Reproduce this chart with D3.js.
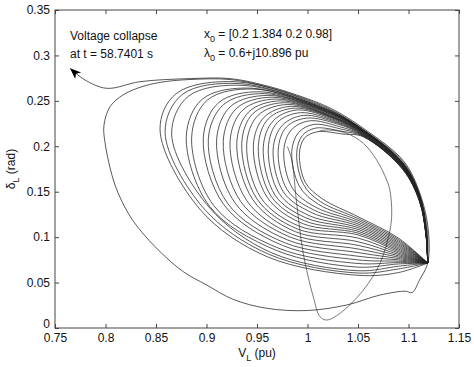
<!DOCTYPE html>
<html>
<head>
<meta charset="utf-8">
<script src="https://cdn.jsdelivr.net/npm/d3@7"></script>
<style>
  body { margin: 0; background: #fff; }
  text { font-family: "Liberation Sans", Arial, sans-serif; }
</style>
</head>
<body>
<svg id="chart" width="474" height="367"></svg>
<script>
// axis ticks
const xTicks = [0.75, 0.8, 0.85, 0.9, 0.95, 1, 1.05, 1.1, 1.15];
const xTickLabels = ["0.75", "0.8", "0.85", "0.9", "0.95", "1", "1.05", "1.1", "1.15"];
const yTicks = [0, 0.05, 0.1, 0.15, 0.2, 0.25, 0.3, 0.35];
const yTickLabels = ["0", "0.05", "0.1", "0.15", "0.2", "0.25", "0.3", "0.35"];

// spiral loops, innermost (0) to outermost (22); every loop passes the cusp
const cusp = [1.119, 0.0715];
const arcV = [1.1175, 1.111, 1.094, 1.055];   // V_L where the right arc is read
const arc0 = [0.100,0.100,0.101,0.101,0.102,0.102,0.102,0.103,0.103,0.104,0.104,0.104,0.105,0.105,0.105,0.106,0.106,0.106,0.107,0.107,0.107,0.108,0.108];
const arcA = [0.139,0.139,0.140,0.140,0.140,0.141,0.141,0.141,0.142,0.142,0.142,0.143,0.143,0.143,0.144,0.144,0.144,0.145,0.145,0.145,0.146,0.146,0.146];
const arcB = [0.175,0.175,0.176,0.176,0.177,0.177,0.177,0.178,0.178,0.178,0.179,0.179,0.179,0.180,0.180,0.180,0.181,0.181,0.181,0.182,0.182,0.182,0.182];
const arcC = [0.2106,0.211,0.2115,0.212,0.2125,0.213,0.2135,0.214,0.2145,0.215,0.2153,0.2156,0.216,0.2163,0.2166,0.217,0.2172,0.2174,0.2176,0.2178,0.218,0.218,0.218];
const shV = [1.035,1.034,1.033,1.032,1.031,1.030,1.029,1.028,1.027,1.026,1.025,1.024,1.023,1.023,1.022,1.022,1.021,1.021,1.020,1.020,1.020,1.020,1.020];
const shD = [0.2135,0.2165,0.219,0.2215,0.224,0.2255,0.227,0.2285,0.230,0.231,0.232,0.233,0.234,0.235,0.236,0.237,0.237,0.238,0.239,0.239,0.240,0.240,0.241];
const topV = [1.010,1.008,1.006,1.002,0.999,0.996,0.993,0.990,0.987,0.984,0.980,0.977,0.973,0.969,0.965,0.961,0.957,0.953,0.947,0.944,0.937,0.933,0.930];
const topD = [0.216,0.220,0.224,0.228,0.231,0.234,0.237,0.240,0.242,0.244,0.246,0.248,0.250,0.252,0.254,0.256,0.258,0.260,0.263,0.264,0.267,0.269,0.271];
const ulV = [0.997,0.995,0.991,0.984,0.979,0.975,0.970,0.966,0.961,0.957,0.951,0.946,0.942,0.936,0.930,0.924,0.917,0.912,0.901,0.896,0.882,0.876,0.870];
const ulD = [0.209,0.212,0.215,0.218,0.221,0.223,0.226,0.228,0.230,0.232,0.234,0.236,0.238,0.240,0.242,0.244,0.246,0.248,0.251,0.252,0.255,0.257,0.258];
const leftV = [0.992,0.9893,0.9844,0.9765,0.971,0.966,0.9612,0.9562,0.9513,0.9464,0.9398,0.9349,0.930,0.9233,0.9166,0.910,0.9018,0.8968,0.8853,0.880,0.8655,0.859,0.854];
const leftD = [0.192,0.193,0.194,0.195,0.196,0.197,0.198,0.199,0.200,0.201,0.202,0.203,0.204,0.205,0.206,0.207,0.208,0.209,0.210,0.211,0.213,0.215,0.218];
const kneeV = [0.998,0.996,0.992,0.985,0.980,0.976,0.972,0.968,0.964,0.960,0.954,0.950,0.946,0.940,0.934,0.928,0.921,0.917,0.907,0.903,0.9025,0.897,0.894];
const kneeD = [0.160,0.158,0.156,0.154,0.152,0.150,0.148,0.146,0.145,0.144,0.143,0.142,0.141,0.140,0.139,0.138,0.137,0.136,0.135,0.134,0.133,0.132,0.130];
const lowV = [1.015,1.013,1.011,1.008,1.006,1.004,1.001,0.999,0.997,0.995,0.992,0.990,0.988,0.985,0.983,0.980,0.977,0.975,0.971,0.969,0.964,0.962,0.960];
const lowD = [0.142,0.139,0.136,0.133,0.130,0.127,0.124,0.121,0.118,0.115,0.112,0.109,0.106,0.103,0.100,0.097,0.094,0.091,0.088,0.0855,0.083,0.081,0.0785];
const lowerV = [1.05, 1.09];                   // V_L where the lower branch is read
const lo1 = [0.1225,0.1205,0.1185,0.1165,0.1145,0.1125,0.1105,0.1085,0.1065,0.1045,0.1025,0.099,0.095,0.091,0.087,0.083,0.079,0.075,0.071,0.067,0.063,0.0605,0.058];
const lo2 = [0.099,0.0975,0.096,0.0945,0.093,0.0915,0.090,0.0885,0.087,0.0855,0.084,0.0825,0.081,0.0795,0.078,0.0765,0.075,0.0735,0.072,0.0705,0.068,0.065,0.061];

// initial transient from x0 (V_L = 0.98, delta_L = 0.2)
const transient = [[0.98,0.2],[0.9844,0.1849],[0.9893,0.1372],[0.9958,0.0822],[1.0057,0.0344],[1.0124,0.0124],[1.019,0.0088],
  [1.0322,0.0162],[1.0553,0.0418],[1.0718,0.0712],[1.0817,0.1079],[1.0834,0.1262],[1.0817,0.1508],[1.0784,0.1629],
  [1.0685,0.1849],[1.0553,0.2033],[1.0388,0.2143],[1.0223,0.2179],[1.012,0.2172]];

// last big loop and the run-away to collapse
const finalLoop = [[1.119,0.0715],[1.1185,0.108],[1.1114,0.1455],[1.0949,0.1825],[1.0553,0.2185],[1.0228,0.2405],
  [0.989,0.2556],[0.9562,0.2665],[0.9233,0.2735],[0.8837,0.2735],[0.855,0.2705],[0.8342,0.2649],[0.8173,0.2565],
  [0.8045,0.2436],[0.7985,0.2234],[0.7995,0.2042],[0.8094,0.1574],[0.8226,0.1262],[0.8342,0.1079],[0.854,0.084],
  [0.877,0.062],[0.9002,0.0473],[0.9265,0.0315],[0.9596,0.0217],[0.9992,0.0192],[1.0388,0.0253],[1.0718,0.0363],
  [1.097,0.0405],[1.1035,0.039],[1.111,0.053],[1.119,0.0715],[1.1196,0.108],[1.1118,0.1465],
  [1.0953,0.1835],[1.0557,0.2195],[1.023,0.2418],[0.989,0.2566],[0.9562,0.2675],[0.9233,0.2745],[0.8837,0.2745],
  [0.8342,0.2711],[0.8012,0.2638],[0.7797,0.273],[0.7649,0.2858]];

const width = 474;
const height = 367;
const margin = { top: 10, right: 15, bottom: 39, left: 55 };

const x = d3.scaleLinear().domain([0.75, 1.15]).range([margin.left, width - margin.right]);
const y = d3.scaleLinear().domain([0, 0.35]).range([height - margin.bottom, margin.top]);

const svg = d3.select("#chart");
svg.append("rect").attr("width", width).attr("height", height).attr("fill", "#fff");

const line = d3.line()
  .x((d) => x(d[0]))
  .y((d) => y(d[1]))
  .curve(d3.curveCatmullRom.alpha(0.5));

// build one closed loop per ring of the spiral from the read values
const loops = leftV.map((_, k) => [
  cusp,
  [arcV[0], arc0[k]], [arcV[1], arcA[k]], [arcV[2], arcB[k]], [arcV[3], arcC[k]],
  [shV[k], shD[k]], [topV[k], topD[k]], [ulV[k], ulD[k]], [leftV[k], leftD[k]],
  [kneeV[k], kneeD[k]], [lowV[k], lowD[k]],
  [lowerV[0], lo1[k]], [lowerV[1], lo2[k]],
  cusp,
]);

const plot = svg.append("g");

plot.append("path")
  .attr("d", line(transient))
  .attr("fill", "none")
  .attr("stroke", "#555")
  .attr("stroke-width", 0.8);

plot.selectAll(".loop")
  .data(loops)
  .enter()
  .append("path")
  .attr("class", "loop")
  .attr("d", line)
  .attr("fill", "none")
  .attr("stroke", "#222")
  .attr("stroke-width", 0.75);

// arrow head at the end of the trajectory
svg.append("defs").append("marker")
  .attr("id", "arrow")
  .attr("markerUnits", "userSpaceOnUse")
  .attr("markerWidth", 14)
  .attr("markerHeight", 12)
  .attr("viewBox", "-12 -6 14 12")
  .attr("refX", 0)
  .attr("refY", 0)
  .attr("orient", "auto")
  .append("path")
  .attr("d", "M0,0 L-11,-4.5 L-8,0 L-11,4.5 Z")
  .attr("fill", "#000");

plot.append("path")
  .attr("d", line(finalLoop))
  .attr("fill", "none")
  .attr("stroke", "#222")
  .attr("stroke-width", 0.75)
  .attr("marker-end", "url(#arrow)");

// axes, MATLAB style: box with inward ticks on all sides
const axisColor = "#444";
svg.append("g")
  .attr("transform", `translate(0,${y(0)})`)
  .call(d3.axisBottom(x).tickValues(xTicks).tickSizeInner(-4).tickSizeOuter(0).tickPadding(5)
    .tickFormat((d, i) => xTickLabels[i]));
svg.append("g")
  .attr("transform", `translate(0,${y(0.35)})`)
  .call(d3.axisTop(x).tickValues(xTicks).tickSizeInner(-4).tickSizeOuter(0).tickFormat(""));
const yAxis = svg.append("g")
  .attr("transform", `translate(${x(0.75)},0)`)
  .call(d3.axisLeft(y).tickValues(yTicks).tickSizeInner(-4).tickSizeOuter(0).tickPadding(5)
    .tickFormat((d, i) => yTickLabels[i]));
svg.append("g")
  .attr("transform", `translate(${x(1.15)},0)`)
  .call(d3.axisRight(y).tickValues(yTicks).tickSizeInner(-4).tickSizeOuter(0).tickFormat(""));

svg.selectAll(".domain").remove();
svg.selectAll(".tick line").attr("stroke", axisColor);
svg.selectAll(".tick text").attr("font-size", 12).attr("fill", "#111")
  .style("font-family", "'Liberation Sans', Arial, sans-serif");
// the "0" label sits just above "0.75" in the corner
yAxis.selectAll(".tick text").filter((d) => d === 0).attr("dy", "-0.05em");

svg.append("rect")
  .attr("x", x(0.75)).attr("y", y(0.35))
  .attr("width", x(1.15) - x(0.75)).attr("height", y(0) - y(0.35))
  .attr("fill", "none").attr("stroke", axisColor).attr("stroke-width", 1);

// axis labels
const xl = svg.append("text")
  .attr("x", (x(0.75) + x(1.15)) / 2)
  .attr("y", 357)
  .attr("text-anchor", "middle")
  .attr("font-size", 12)
  .attr("fill", "#111");
xl.append("tspan").text("V");
xl.append("tspan").attr("font-size", 9).attr("dy", 4).text("L");
xl.append("tspan").attr("dy", -4).text(" (pu)");

const yl = svg.append("text")
  .attr("transform", `translate(15,${(y(0) + y(0.35)) / 2}) rotate(-90)`)
  .attr("text-anchor", "middle")
  .attr("font-size", 12)
  .attr("fill", "#111");
yl.append("tspan").text("δ");
yl.append("tspan").attr("font-size", 9).attr("dy", 4).text("L");
yl.append("tspan").attr("dy", -4).text(" (rad)");

// annotations
const note = svg.append("g").attr("font-size", 12).attr("fill", "#111");
note.append("text").attr("x", 70).attr("y", 40).text("Voltage collapse");
note.append("text").attr("x", 70).attr("y", 58).text("at t = 58.7401 s");

const t1 = note.append("text").attr("x", 204).attr("y", 38);
t1.append("tspan").text("x");
t1.append("tspan").attr("font-size", 9).attr("dy", 4).text("0");
t1.append("tspan").attr("dy", -4).text(" = [0.2 1.384 0.2 0.98]");

const t2 = note.append("text").attr("x", 204).attr("y", 57);
t2.append("tspan").text("λ");
t2.append("tspan").attr("font-size", 9).attr("dy", 4).text("0");
t2.append("tspan").attr("dy", -4).text(" = 0.6+j10.896 pu");
</script>
</body>
</html>
